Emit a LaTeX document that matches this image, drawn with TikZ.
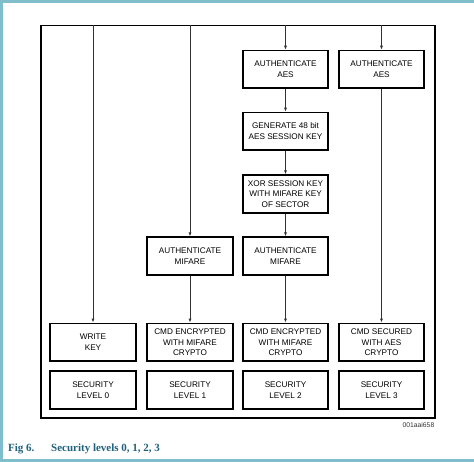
\documentclass[tikz,border=0pt]{standalone}
\usepackage{fontspec}
\setmainfont{Liberation Sans}
\newfontfamily\capfont{Liberation Serif}
\usetikzlibrary{arrows.meta}
\definecolor{frameteal}{RGB}{128,190,204}
\definecolor{captext}{RGB}{32,96,124}
\begin{document}
\begin{tikzpicture}[x=1pt,y=-1pt,
  blk/.style={draw, line width=1.6pt, minimum width=85.5pt, minimum height=37.5pt,
    align=center, inner sep=0pt, font=\fontsize{8.2}{10.5}\selectfont},
  flow/.style={line width=0.8pt, draw=black!80, -{Latex[length=4pt,width=3pt]}},
  mainframe/.style={draw, line width=1.3pt}]
\useasboundingbox (0,0) rectangle (474,462);
% page frame
\fill[frameteal] (0,0) rectangle (474,3);
\fill[frameteal] (0,0) rectangle (2.5,462);
\fill[frameteal] (0,458.5) rectangle (474,461.5);
% main frame
\draw[mainframe] (41,25.5) rectangle (435,418);
\coordinate (t0) at (93,25.5);
\coordinate (t1) at (190,25.5);
\coordinate (t2) at (285.5,25.5);
\coordinate (t3) at (381.5,25.5);
% boxes
\node[blk] (aes2) at (285.5,69.3) {AUTHENTICATE\\AES};
\node[blk] (aes3) at (381.5,69.3) {AUTHENTICATE\\AES};
\node[blk] (gen) at (285.5,131.3) {GENERATE 48 bit\\AES SESSION KEY};
\node[blk] (xor) at (285.5,194) {XOR SESSION KEY\\WITH MIFARE KEY\\OF SECTOR};
\node[blk] (mf1) at (190,256) {AUTHENTICATE\\MIFARE};
\node[blk] (mf2) at (285.5,256) {AUTHENTICATE\\MIFARE};
\node[blk] (wk) at (93,342.2) {WRITE\\KEY};
\node[blk] (c1) at (190,342.2) {CMD ENCRYPTED\\WITH MIFARE\\CRYPTO};
\node[blk] (c2) at (285.5,342.2) {CMD ENCRYPTED\\WITH MIFARE\\CRYPTO};
\node[blk] (c3) at (381.5,342.2) {CMD SECURED\\WITH AES\\CRYPTO};
\node[blk] (s0) at (93,390) {SECURITY\\LEVEL 0};
\node[blk] (s1) at (190,390) {SECURITY\\LEVEL 1};
\node[blk] (s2) at (285.5,390) {SECURITY\\LEVEL 2};
\node[blk] (s3) at (381.5,390) {SECURITY\\LEVEL 3};
% connectors
\draw[flow] (t0) -- (wk);
\draw[flow] (t1) -- (mf1);
\draw[flow] (mf1) -- (c1);
\draw[flow] (t2) -- (aes2);
\draw[flow] (aes2) -- (gen);
\draw[flow] (gen) -- (xor);
\draw[flow] (xor) -- (mf2);
\draw[flow] (mf2) -- (c2);
\draw[flow] (t3) -- (aes3);
\draw[flow] (aes3) -- (c3);
% labels
\node[anchor=base east, inner sep=0pt, font=\fontsize{6.8}{8}\selectfont, text=black!80] (code) at (434.5,427.5) {001aai658};
\node[anchor=base west, inner sep=0pt, font=\capfont\bfseries\fontsize{11}{13}\selectfont, text=captext] (fig) at (8,451) {Fig 6.};
\node[anchor=base west, inner sep=0pt, font=\capfont\bfseries\fontsize{11}{13}\selectfont, text=captext] (cap) at (51,451) {Security levels 0, 1, 2, 3};
\end{tikzpicture}
\end{document}
